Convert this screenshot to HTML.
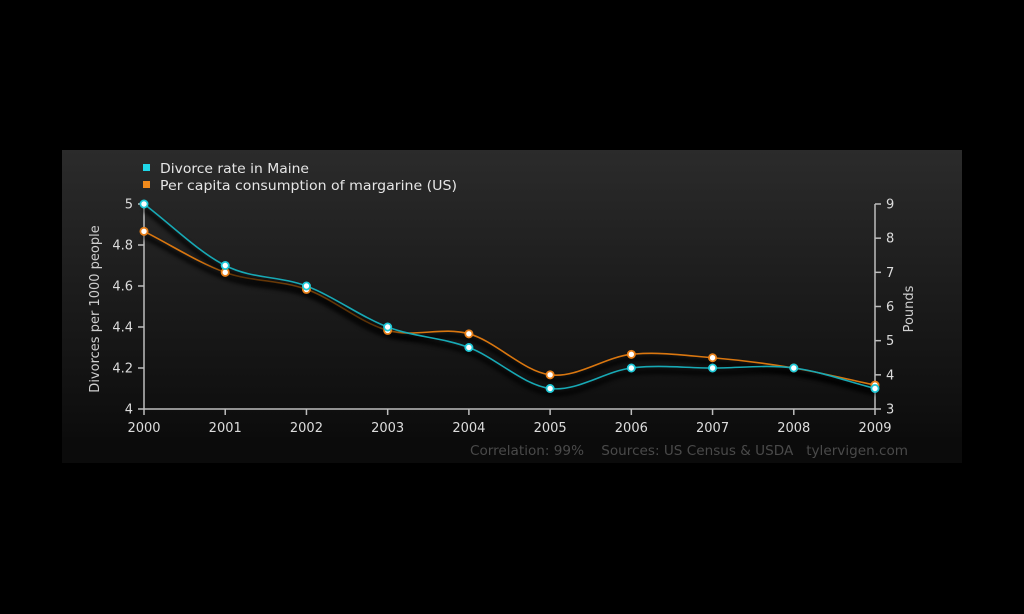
<!DOCTYPE html>
<html><head><meta charset="utf-8"><style>
html,body{margin:0;padding:0;background:#000;width:1024px;height:614px;overflow:hidden}
svg{display:block}
text{font-family:"DejaVu Sans","Liberation Sans",sans-serif;white-space:pre}
</style></head><body>
<svg id="s" width="1024" height="614" xmlns="http://www.w3.org/2000/svg">
<defs>
<linearGradient id="g" x1="0" y1="0" x2="0" y2="1">
<stop offset="0" stop-color="#2b2b2b"/><stop offset="1" stop-color="#0c0c0c"/>
</linearGradient>
<filter id="sh" x="-5%" y="-5%" width="110%" height="130%"><feGaussianBlur stdDeviation="2"/></filter>
</defs>
<rect x="62" y="150" width="900" height="287" fill="url(#g)"/>
<rect x="62" y="437" width="900" height="26" fill="#0b0b0b"/>
<rect x="143" y="164" width="7" height="7" fill="#1fd7e8"/>
<text x="160" y="173" font-size="13.5" fill="#e6e6e6" textLength="149" lengthAdjust="spacingAndGlyphs">Divorce rate in Maine</text>
<rect x="143" y="181" width="7" height="7" fill="#f08a1c"/>
<text x="160" y="190" font-size="13.5" fill="#e6e6e6" textLength="297" lengthAdjust="spacingAndGlyphs">Per capita consumption of margarine (US)</text>
<text x="470" y="455" font-size="13" fill="#4a4a4a" xml:space="preserve" textLength="438" lengthAdjust="spacingAndGlyphs">Correlation: 99%    Sources: US Census &amp; USDA   tylervigen.com</text>
<text transform="translate(99,309) rotate(-90)" text-anchor="middle" font-size="13" fill="#cfcfcf">Divorces per 1000 people</text>
<text transform="translate(913,309) rotate(-90)" text-anchor="middle" font-size="13" fill="#cfcfcf">Pounds</text>
<g id="ax" stroke="#bdbdbd" stroke-width="1.5" fill="none"></g>
<g id="lab" font-size="13" fill="#dcdcdc"></g>
<g id="ser"></g>
</svg>
<script>
var NS="http://www.w3.org/2000/svg";
function el(p,t,a,txt){var e=document.createElementNS(NS,t);for(var k in a)e.setAttribute(k,a[k]);if(txt!=null)e.textContent=txt;document.getElementById(p).appendChild(e);return e;}
var xs=[];for(var i=0;i<10;i++)xs.push(144+i*(875-144)/9);
el("ax","line",{x1:144,y1:204,x2:144,y2:409});
el("ax","line",{x1:144,y1:409,x2:875,y2:409});
el("ax","line",{x1:875,y1:204,x2:875,y2:409});
for(var i=0;i<10;i++){el("ax","line",{x1:xs[i],y1:409,x2:xs[i],y2:415});el("lab","text",{x:xs[i],y:432,"text-anchor":"middle"},String(2000+i));}
var L=["4","4.2","4.4","4.6","4.8","5"];
for(var i=0;i<6;i++){var y=409-i*41;el("ax","line",{x1:138,y1:y,x2:144,y2:y});el("lab","text",{x:133,y:y+4.5,"text-anchor":"end"},L[i]);}
for(var v=3;v<=9;v++){var y=204+(9-v)*205/6;el("ax","line",{x1:875,y1:y,x2:881,y2:y});el("lab","text",{x:886,y:y+4.5},String(v));}
var d=[5,4.7,4.6,4.4,4.3,4.1,4.2,4.2,4.2,4.1].map(function(v){return 204+(5-v)*205;});
var m=[8.2,7,6.5,5.3,5.2,4,4.6,4.5,4.2,3.7].map(function(v){return 204+(9-v)*205/6;});
function path(ys){var p="M"+xs[0]+","+ys[0];var n=ys.length;
 var sl=[];for(var i=0;i<n;i++){var a=i>0?i-1:i,b=i<n-1?i+1:i;sl.push((ys[b]-ys[a])/(xs[b]-xs[a]));}
 for(var i=0;i<n-1;i++){var h=(xs[i+1]-xs[i])/3;p+=" C"+(xs[i]+h)+","+(ys[i]+sl[i]*h)+" "+(xs[i+1]-h)+","+(ys[i+1]-sl[i+1]*h)+" "+xs[i+1]+","+ys[i+1];}
 return p;}
[[m,"#d9760f"],[d,"#17a9b5"]].forEach(function(s){
 el("ser","path",{d:path(s[0].map(function(y){return y+5;})),stroke:"#000","stroke-width":4,fill:"none",filter:"url(#sh)",opacity:0.9});
 el("ser","path",{d:path(s[0]),stroke:s[1],"stroke-width":1.6,fill:"none"});
});
[[m,"#e8801a"],[d,"#1fc9d8"]].forEach(function(s){
 s[0].forEach(function(y,i){el("ser","circle",{cx:xs[i],cy:y,r:3.6,fill:"#fff",stroke:s[1],"stroke-width":1.8});});
});
</script>
</body></html>
